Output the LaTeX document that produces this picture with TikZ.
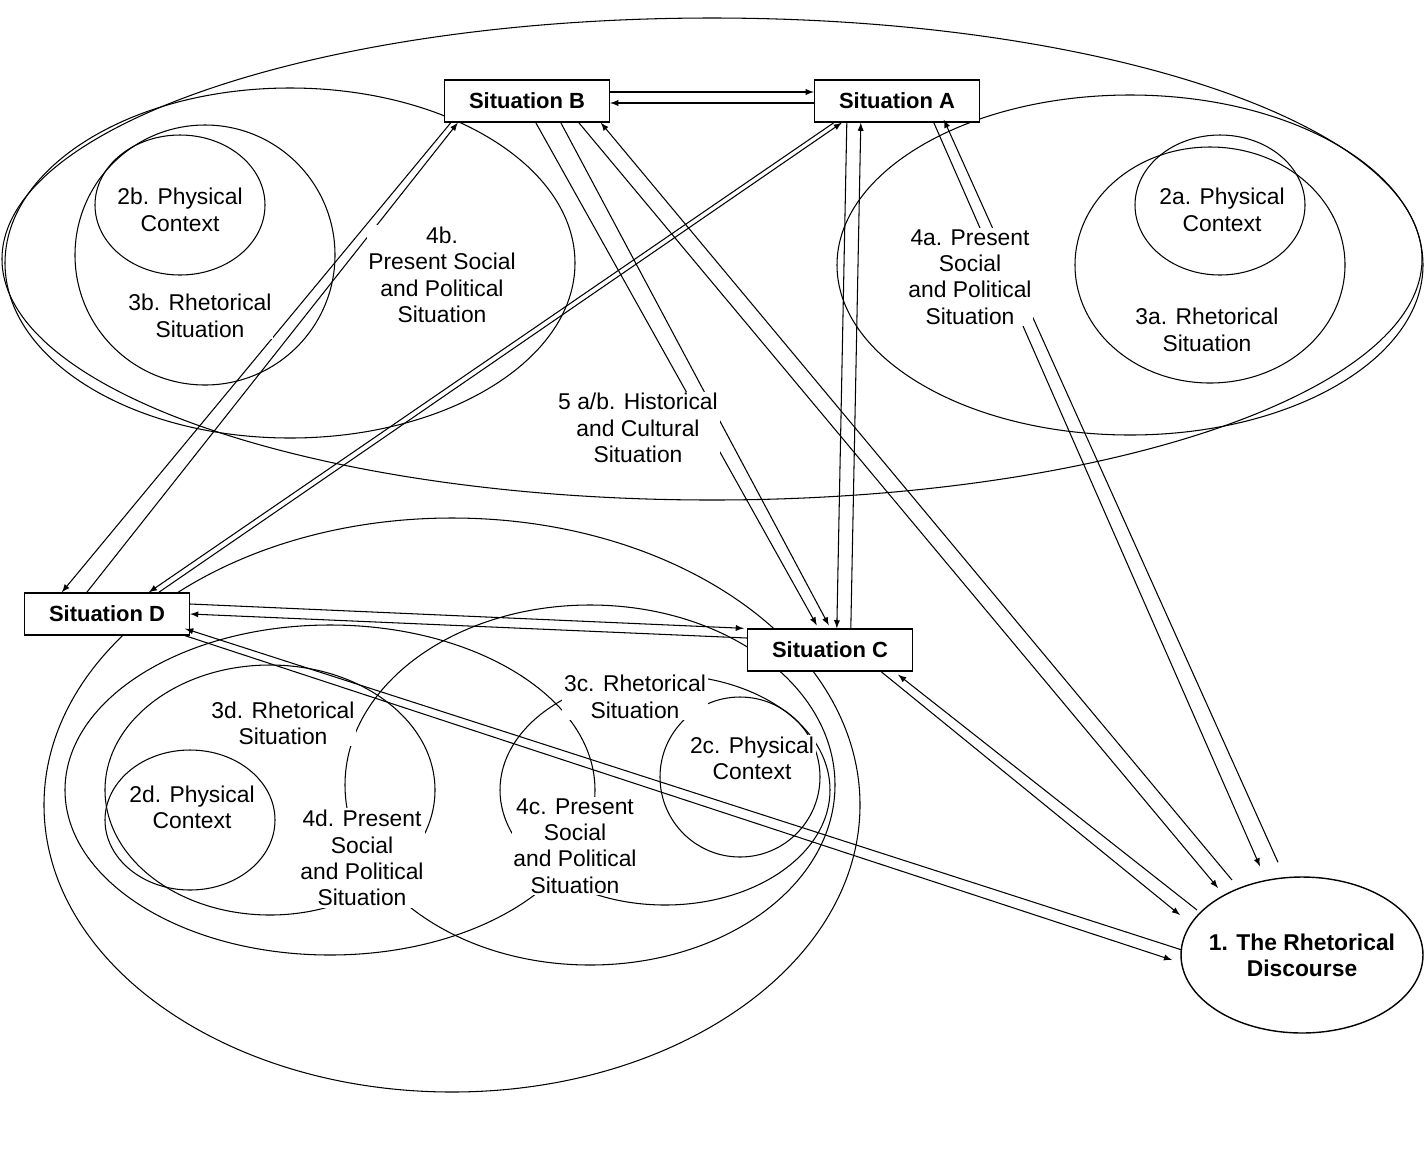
\documentclass[tikz,border=0pt]{standalone}
\usepackage{fontspec}
\setmainfont{Liberation Sans}
\usetikzlibrary{shapes.geometric}

\begin{document}
\begin{tikzpicture}[x=0.02cm,y=-0.02cm,
  sit/.style={draw,thick,fill=white,font=\fontsize{12.5}{14}\selectfont\bfseries,minimum width=3.3cm,minimum height=0.84cm,inner sep=0pt},
  lbl/.style={fill=white,align=center,inner sep=1pt,font=\fontsize{13}{15}\selectfont},
  arr/.style={-latex,semithick},
  ring/.style={semithick}]
  \useasboundingbox (0,0) rectangle (1424,1154);
  % contexts
  \draw[ring] (712,259) ellipse [x radius=710,y radius=241];
  \draw[ring] (290,263) ellipse [x radius=285,y radius=175];
  \draw[ring] (205,255) ellipse [x radius=130,y radius=130];
  \draw[ring] (180,205) ellipse [x radius=85,y radius=70];
  \draw[ring] (1130,265) ellipse [x radius=293,y radius=170];
  \draw[ring] (1210,265) ellipse [x radius=135,y radius=118];
  \draw[ring] (1220,205) ellipse [x radius=85,y radius=70];
  \draw[ring] (452,805) ellipse [x radius=408,y radius=287];
  \draw[ring] (330,790) ellipse [x radius=265,y radius=165];
  \draw[ring] (270,790) ellipse [x radius=165,y radius=125];
  \draw[ring] (190,820) ellipse [x radius=85,y radius=70];
  \draw[ring] (590,785) ellipse [x radius=245,y radius=180];
  \draw[ring] (665,790) ellipse [x radius=165,y radius=115];
  \draw[ring] (740,777) ellipse [x radius=80,y radius=80];
  % situations
  \node [sit] (B) at (527,101) {Situation B};
  \node [sit] (A) at (897,101) {Situation A};
  \node [sit] (D) at (107,614) {Situation D};
  \node [sit] (C) at (830,650) {Situation C};
  \node [ellipse,draw,thick,fill=white,inner sep=0pt,minimum width=4.84cm,minimum height=3.12cm] (R) at (1302,955) {};
  \node [align=center,font=\fontsize{13}{15}\selectfont\bfseries] (Rt) at (R) {1. The Rhetorical\\Discourse};
  % connections
  \draw[arr] ([shift={(0,-9)}]B.east) -- ([shift={(0,-9)}]A.west);
  \draw[arr] ([shift={(0,2)}]A.west) -- ([shift={(0,2)}]B.east);
  \draw[arr] ([shift={(7,0)}]B.south west) -- ([shift={(38,0)}]D.north west);
  \draw[arr] ([shift={(63,0)}]D.north west) -- ([shift={(14,0)}]B.south west);
  \draw[arr] ([shift={(20,0)}]A.south west) -- ([shift={(125,0)}]D.north west);
  \draw[arr] ([shift={(135,0)}]D.north west) -- ([shift={(28,0)}]A.south west);
  \draw[arr] ([shift={(33,0)}]A.south west) -- ([shift={(90,0)}]C.north west);
  \draw[arr] ([shift={(104,0)}]C.north west) -- ([shift={(47,0)}]A.south west);
  \draw[arr] ([shift={(120,0)}]A.south west) -- ([shift={(-42,-10)}]R.north);
  \draw[arr] ([shift={(-24,-14)}]R.north) -- ([shift={(130,-3)}]A.south west);
  \draw[arr] ([shift={(135,0)}]B.south west) -- ([shift={(-84,-67)}]R.center);
  \draw[arr] ([shift={(-70,-75)}]R.center) -- ([shift={(157,0)}]B.south west);
  \draw[arr] ([shift={(92,0)}]B.south west) -- ([shift={(70,-3)}]C.north west);
  \draw[arr] ([shift={(117,0)}]B.south west) -- ([shift={(82,-3)}]C.north west);
  \draw[arr] ([shift={(0,-10)}]D.east) -- ([shift={(-3,0)}]C.north west);
  \draw[arr] ([shift={(0,-12)}]C.west) -- (D.east);
  \draw[arr] ([shift={(-5,0)}]D.south east) -- ([shift={(-130,5)}]R.center);
  \draw[arr] ([shift={(-120,-5)}]R.center) -- ([shift={(-5,-7)}]D.south east);
  \draw[arr] ([shift={(-32,0)}]C.south east) -- ([shift={(-122,-40)}]R.center);
  \draw[arr] ([shift={(-105,-45)}]R.center) -- ([shift={(-15,3)}]C.south east);
  % labels
  \node [lbl] (l2b) at (180,210) {2b. Physical\\Context};
  \node [lbl] (l3b) at (200,316) {3b. Rhetorical\\Situation};
  \node [lbl] (l4b) at (442,275) {4b.\\Present Social\\and Political\\Situation};
  \node [lbl] (l4a) at (970,277) {4a. Present\\Social\\and Political\\Situation};
  \node [lbl] (l2a) at (1222,210) {2a. Physical\\Context};
  \node [lbl] (l3a) at (1207,330) {3a. Rhetorical\\Situation};
  \node [lbl] (l5) at (638,428) {5 a/b. Historical\\and Cultural\\Situation};
  \node [lbl] (l3c) at (635,697) {3c. Rhetorical\\Situation};
  \node [lbl] (l2c) at (752,758) {2c. Physical\\Context};
  \node [lbl] (l3d) at (283,723) {3d. Rhetorical\\Situation};
  \node [lbl] (l2d) at (192,807) {2d. Physical\\Context};
  \node [lbl] (l4d) at (362,858) {4d. Present\\Social\\and Political\\Situation};
  \node [lbl] (l4c) at (575,846) {4c. Present\\Social\\and Political\\Situation};
\end{tikzpicture}
\end{document}
